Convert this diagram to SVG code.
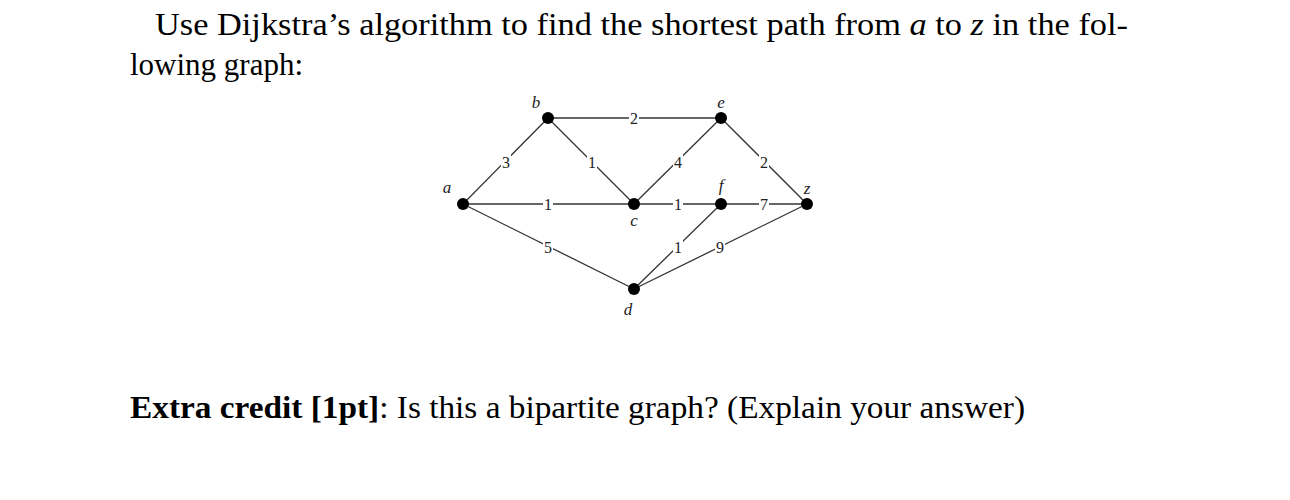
<svg xmlns="http://www.w3.org/2000/svg" width="1290" height="500" viewBox="0 0 1290 500">
<style>
.t{font-family:"Liberation Serif",serif;font-size:31px;fill:#000}
.m{font-style:italic}
.e{stroke:#333;stroke-width:1.3;fill:none}
.w{font-family:"Liberation Serif",serif;font-size:16px;fill:#222;text-anchor:middle;dominant-baseline:central}
.bg{fill:#fff}
.n{fill:#000}
.nl{font-family:"Liberation Serif",serif;font-style:italic;font-size:17px;fill:#222;text-anchor:middle}
</style>
<rect width="1290" height="500" fill="#fff"/>
<text class="t" x="155" y="35" textLength="973" lengthAdjust="spacingAndGlyphs">Use Dijkstra’s algorithm to find the shortest path from <tspan class="m">a</tspan> to <tspan class="m">z</tspan> in the fol-</text>
<text class="t" x="130" y="75">lowing graph:</text>
<text class="t" x="130" y="418" textLength="895" lengthAdjust="spacingAndGlyphs"><tspan font-weight="bold">Extra credit [1pt]</tspan>: Is this a bipartite graph? (Explain your answer)</text>
<g id="connectors">
<line class="e" x1="463" y1="204" x2="548" y2="118"/>
<line class="e" x1="548" y1="118" x2="721" y2="118"/>
<line class="e" x1="548" y1="118" x2="634" y2="204"/>
<line class="e" x1="634" y1="204" x2="721" y2="118"/>
<line class="e" x1="721" y1="118" x2="807" y2="204"/>
<line class="e" x1="463" y1="204" x2="807" y2="204"/>
<line class="e" x1="463" y1="204" x2="634" y2="289"/>
<line class="e" x1="721" y1="204" x2="634" y2="289"/>
<line class="e" x1="807" y1="204" x2="634" y2="289"/>
<rect class="bg" x="501" y="154" width="10" height="15"/><text class="w" x="506" y="162">3</text>
<rect class="bg" x="587" y="154" width="10" height="15"/><text class="w" x="592" y="162">1</text>
<rect class="bg" x="629" y="110" width="10" height="15"/><text class="w" x="634" y="118">2</text>
<rect class="bg" x="673" y="154" width="10" height="15"/><text class="w" x="678" y="162">4</text>
<rect class="bg" x="759" y="154" width="10" height="15"/><text class="w" x="764" y="162">2</text>
<rect class="bg" x="543" y="196" width="10" height="15"/><text class="w" x="548" y="204">1</text>
<rect class="bg" x="673" y="196" width="10" height="15"/><text class="w" x="678" y="204">1</text>
<rect class="bg" x="759" y="196" width="10" height="15"/><text class="w" x="764" y="204">7</text>
<rect class="bg" x="543" y="239" width="10" height="15"/><text class="w" x="548" y="247">5</text>
<rect class="bg" x="673" y="239" width="10" height="15"/><text class="w" x="678" y="247">1</text>
<rect class="bg" x="715" y="239" width="10" height="15"/><text class="w" x="720" y="247">9</text>
</g>
<g id="node-a"><circle class="n" cx="463" cy="204" r="6"/><text class="nl" x="447" y="193">a</text></g>
<g id="node-b"><circle class="n" cx="548" cy="118" r="6"/><text class="nl" x="536" y="108">b</text></g>
<g id="node-e"><circle class="n" cx="721" cy="118" r="6"/><text class="nl" x="721" y="108">e</text></g>
<g id="node-c"><circle class="n" cx="634" cy="204" r="6"/><text class="nl" x="634" y="226">c</text></g>
<g id="node-f"><circle class="n" cx="721" cy="204" r="6"/><text class="nl" x="721" y="191">f</text></g>
<g id="node-z"><circle class="n" cx="807" cy="204" r="6"/><text class="nl" x="807" y="194">z</text></g>
<g id="node-d"><circle class="n" cx="634" cy="289" r="6"/><text class="nl" x="628" y="315">d</text></g>
</svg>
